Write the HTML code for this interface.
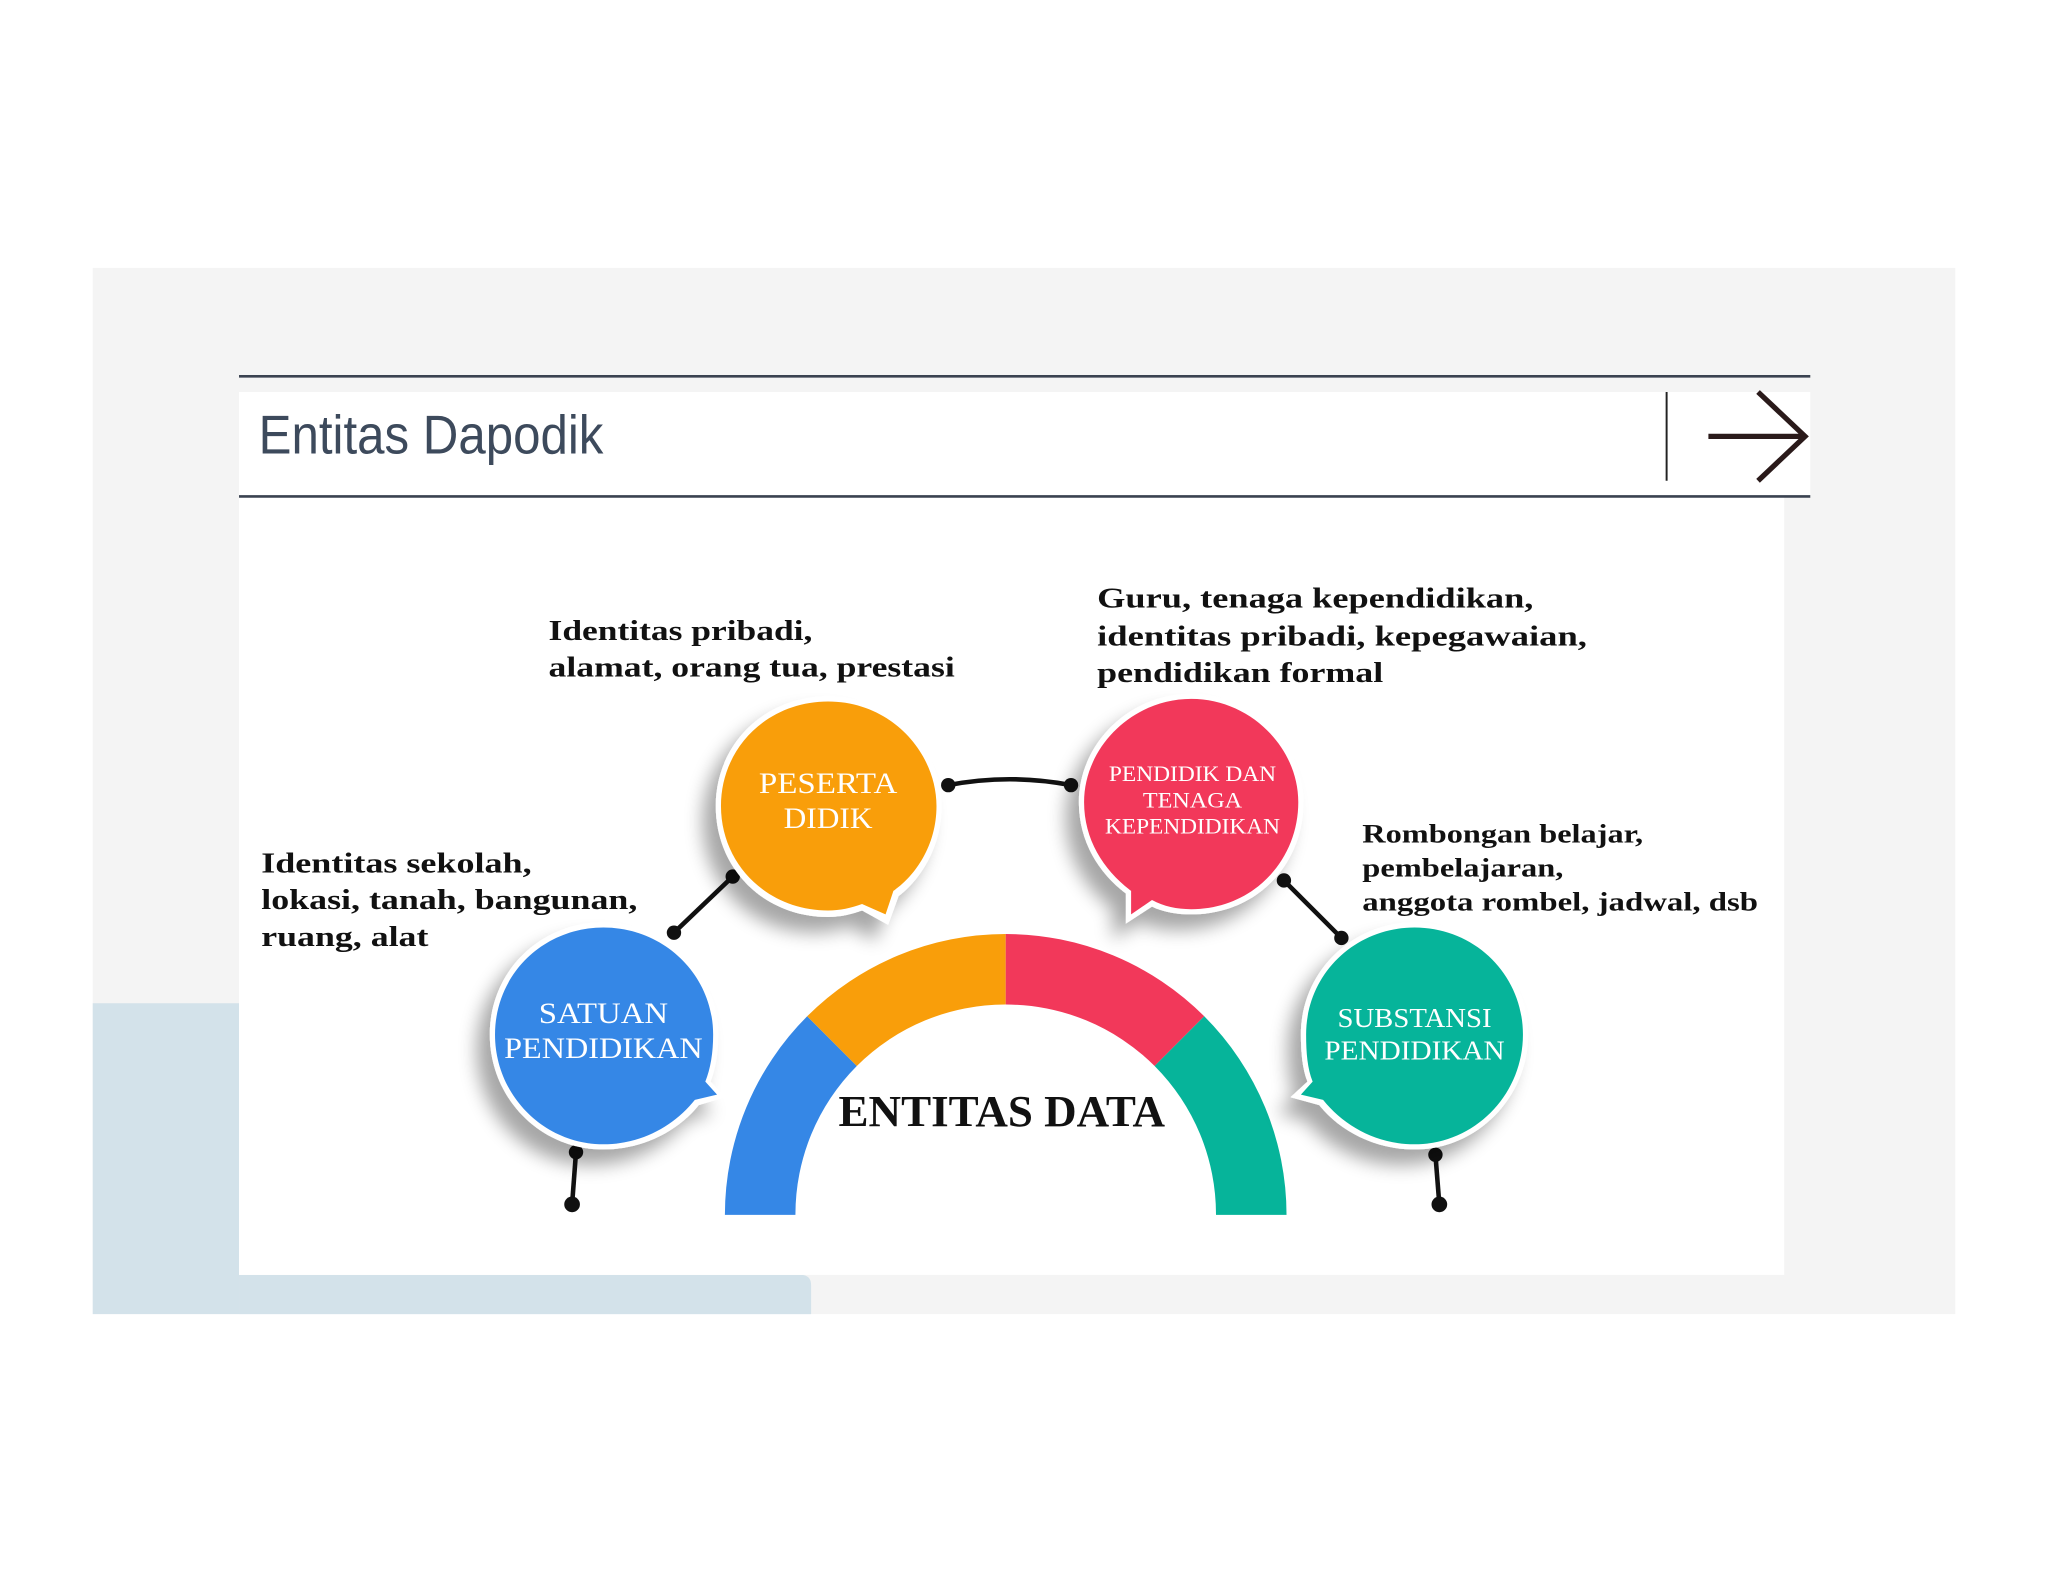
<!DOCTYPE html>
<html><head><meta charset="utf-8"><style>html,body{margin:0;padding:0;background:#fff}svg{display:block}</style></head>
<body>
<svg width="2048" height="1582" viewBox="0 0 1568 1211" xmlns="http://www.w3.org/2000/svg">
<defs>
<filter id="sh" x="-40%" y="-40%" width="180%" height="180%"><feGaussianBlur in="SourceAlpha" stdDeviation="7"/><feOffset dx="-10" dy="12"/><feComponentTransfer><feFuncA type="linear" slope="0.35"/></feComponentTransfer><feMerge><feMergeNode/><feMergeNode in="SourceGraphic"/></feMerge></filter>
</defs>
<rect x="0" y="0" width="1568" height="1211" fill="#fff"/>
<rect x="71" y="205" width="1426" height="801" fill="#f4f4f4"/>
<rect x="71" y="768" width="112" height="238" fill="#d3e2ea"/>
<path d="M183 976 H613 Q621 976 621 984 V1006 H183 Z" fill="#d3e2ea"/>
<rect x="183" y="300" width="1183" height="676" fill="#fff"/>
<rect x="183" y="300" width="1203" height="80" fill="#fff"/>
<line x1="183" y1="288" x2="1386" y2="288" stroke="#3a4250" stroke-width="2"/>
<line x1="183" y1="380" x2="1386" y2="380" stroke="#3a4250" stroke-width="2"/>
<text x="198" y="347" font-family="Liberation Sans Narrow, Liberation Sans, sans-serif" font-size="42" fill="#3d4a5c" textLength="264" lengthAdjust="spacingAndGlyphs">Entitas Dapodik</text>
<line x1="1276" y1="300" x2="1276" y2="368" stroke="#222" stroke-width="1.5"/>
<path d="M1308 334 H1380 M1346 300 L1382 334 L1346 368" fill="none" stroke="#2a1a1a" stroke-width="4"/>

<g>
<path d="M555 930 A215 215 0 0 1 618 778 L656 816 A161 161 0 0 0 609 930 Z" fill="#3587e6"/>
<path d="M618 778 A215 215 0 0 1 770 715 L770 769 A161 161 0 0 0 656 816 Z" fill="#f99e0a"/>
<path d="M770 715 A215 215 0 0 1 922 778 L884 816 A161 161 0 0 0 770 769 Z" fill="#f2385a"/>
<path d="M922 778 A215 215 0 0 1 985 930 L931 930 A161 161 0 0 0 884 816 Z" fill="#06b49a"/>
</g>
<text x="767" y="862" text-anchor="middle" font-family="Liberation Serif, serif" font-weight="bold" font-size="34" fill="#111" textLength="250" lengthAdjust="spacingAndGlyphs">ENTITAS DATA</text>

<g stroke="#111" stroke-width="3.5" fill="none">
<path d="M726 601 Q773 592 820 601"/>
<line x1="516" y1="714" x2="561" y2="671"/>
<line x1="983" y1="674" x2="1027" y2="718"/>
<line x1="441" y1="882" x2="438" y2="922"/>
<line x1="1099" y1="884" x2="1102" y2="922"/>
</g>
<g fill="#111">
<circle cx="726" cy="601" r="5.5"/><circle cx="820" cy="601" r="5.5"/>
<circle cx="516" cy="714" r="5.5"/><circle cx="561" cy="671" r="5.5"/>
<circle cx="983" cy="674" r="5.5"/><circle cx="1027" cy="718" r="5.5"/>
<circle cx="441" cy="882" r="5.5"/><circle cx="438" cy="922" r="6"/>
<circle cx="1099" cy="884" r="5.5"/><circle cx="1102" cy="922" r="6"/>
</g>

<g filter="url(#sh)">
<path d="M634 533 C686 533 721 575 721 617 C721 650 703 675 688 686 L680 708 L660 697 C652 700 643 702 634 702 C585 702 548 665 548 617 C548 570 585 533 634 533 Z" fill="#fff"/>
<path d="M912 531 C960 531 998 570 998 614 C998 662 962 700 912 700 C901 700 890 698 882 694 L862 707 L862 684 C841 668 826 644 826 614 C826 570 864 531 912 531 Z" fill="#fff"/>
<path d="M462 706 C510 706 550 744 550 792 C550 805 548 818 544 828 L555 840 L535 846 C519 866 492 880 462 880 C413 880 375 840 375 792 C375 744 413 706 462 706 Z" fill="#fff"/>
<path d="M1083 706 C1131 706 1170 744 1170 792 C1170 840 1131 880 1083 880 C1053 880 1026 866 1010 846 L988 840 L1001 828 C997 818 996 805 996 792 C996 744 1035 706 1083 706 Z" fill="#fff"/>
</g>
<path d="M634 537 C683 537 717 577 717 617 C717 648 700 671 684 682 L678 700 L660 692 C652 695 643 697 634 697 C588 697 552 662 552 617 C552 572 588 537 634 537 Z" fill="#f99e0a"/>
<path d="M912 535 C957 535 994 572 994 614 C994 659 959 696 912 696 C901 696 891 694 882 689 L866 700 L866 682 C845 666 830 643 830 614 C830 572 867 535 912 535 Z" fill="#f2385a"/>
<path d="M462 710 C508 710 546 746 546 792 C546 806 544 818 540 828 L549 838 L532 842 C516 862 491 876 462 876 C416 876 379 838 379 792 C379 746 416 710 462 710 Z" fill="#3587e6"/>
<path d="M1083 710 C1129 710 1166 746 1166 792 C1166 838 1129 876 1083 876 C1054 876 1029 862 1013 842 L996 838 L1005 828 C1001 818 1000 806 1000 792 C1000 746 1037 710 1083 710 Z" fill="#06b49a"/>

<g font-family="Liberation Serif, serif" fill="#fff" text-anchor="middle" lengthAdjust="spacingAndGlyphs">
<text x="634" y="607" font-size="23" textLength="106" lengthAdjust="spacingAndGlyphs">PESERTA</text>
<text x="634" y="634" font-size="23" textLength="68" lengthAdjust="spacingAndGlyphs">DIDIK</text>
<text x="913" y="598" font-size="17" textLength="128" lengthAdjust="spacingAndGlyphs">PENDIDIK DAN</text>
<text x="913" y="618" font-size="17" textLength="76" lengthAdjust="spacingAndGlyphs">TENAGA</text>
<text x="913" y="638" font-size="17" textLength="134" lengthAdjust="spacingAndGlyphs">KEPENDIDIKAN</text>
<text x="462" y="783" font-size="23" textLength="99" lengthAdjust="spacingAndGlyphs">SATUAN</text>
<text x="462" y="810" font-size="23" textLength="152" lengthAdjust="spacingAndGlyphs">PENDIDIKAN</text>
<text x="1083" y="786" font-size="21" textLength="118" lengthAdjust="spacingAndGlyphs">SUBSTANSI</text>
<text x="1083" y="811" font-size="21" textLength="138" lengthAdjust="spacingAndGlyphs">PENDIDIKAN</text>
</g>

<g font-family="Liberation Serif, serif" font-weight="bold" fill="#111" font-size="22">
<text x="420" y="490" textLength="202" lengthAdjust="spacingAndGlyphs">Identitas pribadi,</text>
<text x="420" y="518" textLength="311" lengthAdjust="spacingAndGlyphs">alamat, orang tua, prestasi</text>
<text x="840" y="465" textLength="334" lengthAdjust="spacingAndGlyphs">Guru, tenaga kependidikan,</text>
<text x="840" y="494" textLength="375" lengthAdjust="spacingAndGlyphs">identitas pribadi, kepegawaian,</text>
<text x="840" y="522" textLength="219" lengthAdjust="spacingAndGlyphs">pendidikan formal</text>
<text x="200" y="668" textLength="207" lengthAdjust="spacingAndGlyphs">Identitas sekolah,</text>
<text x="200" y="696" textLength="288" lengthAdjust="spacingAndGlyphs">lokasi, tanah, bangunan,</text>
<text x="200" y="724" textLength="128" lengthAdjust="spacingAndGlyphs">ruang, alat</text>
<text x="1043" y="645" font-size="20" textLength="215" lengthAdjust="spacingAndGlyphs">Rombongan belajar,</text>
<text x="1043" y="671" font-size="20" textLength="154" lengthAdjust="spacingAndGlyphs">pembelajaran,</text>
<text x="1043" y="697" font-size="20" textLength="303" lengthAdjust="spacingAndGlyphs">anggota rombel, jadwal, dsb</text>
</g>
</svg>
</body></html>
